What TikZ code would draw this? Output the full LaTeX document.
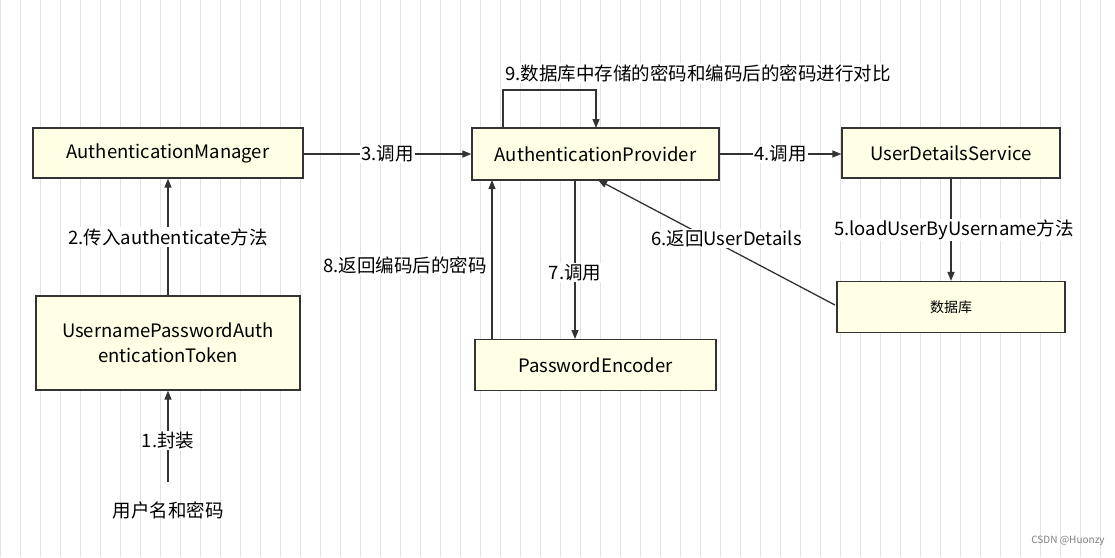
\documentclass[tikz,border=0pt]{standalone}
\usepackage{fontspec}
\setmainfont{Noto Sans CJK SC}
\usetikzlibrary{arrows.meta}
\definecolor{boxfill}{HTML}{FFFFE6}
\definecolor{edge}{HTML}{333333}
\begin{document}
\begin{tikzpicture}[x=1pt,y=-1pt,
  box/.style={draw=edge,line width=1.3pt,fill=boxfill,inner sep=0pt,align=center,font=\fontsize{18.5}{25}\selectfont},
  arr/.style={draw=edge,line width=1.3pt,-{Triangle[length=9pt,width=7pt]}},
  lbl/.style={fill=white,inner sep=1pt,font=\fontsize{18.5}{22}\selectfont}]
\fill[white] (0,0) rectangle (1115,557);
\useasboundingbox (0,0) rectangle (1115,557);
\draw[gray!22,line width=0.6pt] (0,0) grid[step=20] (1115,557);
\node[box,minimum width=270,minimum height=50] (am) at (168,153) {AuthenticationManager};
\node[box,minimum width=247,minimum height=52] (ap) at (595.5,154) {AuthenticationProvider};
\node[box,minimum width=218,minimum height=50] (uds) at (951,153) {UserDetailsService};
\node[box,minimum width=264,minimum height=94] (tok) at (168,343) {UsernamePasswordAuth\\enticationToken};
\node[box,minimum width=241,minimum height=51] (pe) at (595.5,365) {PasswordEncoder};
\node[box,minimum width=228,minimum height=51,font=\fontsize{14}{16}\selectfont] (db) at (951,307) {数据库};
\node[font=\fontsize{18.5}{22}\selectfont] (user) at (168,510) {用户名和密码};
\coordinate (u0) at (168,482);
\draw[arr] (u0) -- (tok.south) node[lbl,pos=0.45] {1.封装};
\draw[arr] (tok.north) -- (am.south) node[lbl,midway] {2.传入authenticate方法};
\draw[arr] (am.east|-ap.west) -- (ap.west) node[lbl,midway] {3.调用};
\draw[arr] (ap.east) -- (uds.west|-ap.east) node[lbl,midway] {4.调用};
\draw[arr] (uds.south) -- (db.north) node[lbl,midway,xshift=3pt] {5.loadUserByUsername方法};
\coordinate (d6) at (835,305);
\coordinate (p6) at (598,180);
\draw[arr] (d6) -- (p6) node[lbl,midway,xshift=10pt,yshift=4pt] {6.返回UserDetails};
\draw[arr] (575,180) -- (575,339) node[lbl,pos=0.58] {7.调用};
\draw[arr] (492,339) -- (492,180);
\node[lbl] (l8) at (405,265) {8.返回编码后的密码};
\draw[arr] (503,128) -- (503,90) -- (596,90) -- (596,128);
\node[lbl] (l9) at (698,73) {9.数据库中存储的密码和编码后的密码进行对比};
\node[text=gray,font=\fontsize{10}{12}\selectfont] (wm) at (1068,541) {CSDN @Huonzy};
\end{tikzpicture}
\end{document}
